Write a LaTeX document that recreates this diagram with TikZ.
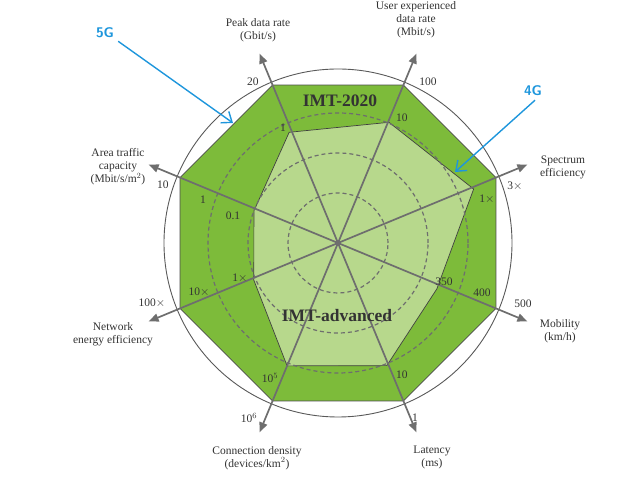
\documentclass[tikz,border=0pt]{standalone}
\usepackage{fontspec}
\setmainfont{Liberation Serif}
\usetikzlibrary{arrows.meta}
\definecolor{gOut}{RGB}{125,187,58}
\definecolor{gIn}{RGB}{183,216,140}
\definecolor{ax}{RGB}{110,110,110}
\definecolor{blu}{RGB}{30,150,220}
\definecolor{txt}{RGB}{50,50,50}
\tikzset{
 axis/.style={draw=ax,line width=1.7pt,-{Triangle[length=10pt,width=8pt]}},
 lab/.style={font=\fontsize{11.5}{13}\selectfont,text=txt,align=center,inner sep=0pt},
 tick/.style={font=\fontsize{11.5}{13}\selectfont,text=black!80,inner sep=0pt},
 title/.style={font=\bfseries\fontsize{17.5}{18}\selectfont,text=black!80,inner sep=0pt},
 marker/.style={draw=blu,line width=1.4pt,-{Straight Barb[length=9pt,width=14pt]}},
 mlab/.style={text=blu,font=\sffamily\bfseries\fontsize{14}{15}\selectfont,inner sep=0pt}
}
\begin{document}
\begin{tikzpicture}[x=1pt,y=1pt]
\useasboundingbox (-338,243) rectangle (302,-243);
\coordinate (c) at (0,0);
\fill[gOut,draw=black!70,line width=0.6pt] (112.5:171)--(67.5:171)--(22.5:171)--(-22.5:171)--(-67.5:171)--(-112.5:171)--(-157.5:171)--(157.5:171)--cycle;
\fill[gIn,draw=black!75,line width=0.7pt] (113.8:121)--(67.1:131)--(21.7:146)--(-24.9:109)--(-68.3:132)--(-112.5:133)--(-156.2:92)--(159.1:90)--cycle;
\draw[black!65,line width=0.9pt] (c) circle (174);
\foreach \r in {50,90,130} \draw[ax,line width=1.2pt,dash pattern=on 4pt off 3pt] (c) circle (\r);
\foreach \a/\n in {112.5/pk,67.5/ue,22.5/se,-22.5/mo,-67.5/la,-112.5/cd,-157.5/ne,157.5/at}
  \draw[axis] (c) -- (\a:205) coordinate (\n);
\fill[ax] (c) circle (2.5);
\node[title] (t1) at (2,142) {IMT-2020};
\node[title] (t2) at (-1,-73) {IMT-advanced};
\node[lab] (l1) at (-80,213) {Peak data rate\\(Gbit/s)};
\node[lab] (l2) at (78,223) {User experienced\\data rate\\(Mbit/s)};
\node[lab] (l3) at (225,76) {Spectrum\\efficiency};
\node[lab] (l4) at (222,-88) {Mobility\\(km/h)};
\node[lab] (l5) at (94,-214) {Latency\\(ms)};
\node[lab] (l6) at (-81,-215) {Connection density\\(devices/km$^2$)};
\node[lab] (l7) at (-225,-91) {Network\\energy efficiency};
\node[lab] (l8) at (-220,76) {Area traffic\\capacity\\(Mbit/s/m$^2$)};
\node[tick] (k1) at (-85,161) {20};
\node[tick] (k2) at (-55,115) {1};
\node[tick] (k3) at (90,161) {100};
\node[tick] (k4) at (64,125) {10};
\node[tick] (k5) at (177,57) {3$\times$};
\node[tick] (k6) at (149,44) {1$\times$};
\node[tick] (k7) at (185,-61) {500};
\node[tick] (k8) at (144,-50) {400};
\node[tick] (k9) at (106,-39) {350};
\node[tick] (k10) at (77,-175) {1};
\node[tick] (k11) at (64,-132) {10};
\node[tick] (k12) at (-89,-175) {10$^6$};
\node[tick] (k13) at (-68,-135) {10$^5$};
\node[tick] (k14) at (-186,-60) {100$\times$};
\node[tick] (k15) at (-139,-49) {10$\times$};
\node[tick] (k16) at (-98,-35) {1$\times$};
\node[tick] (k17) at (-175,58) {10};
\node[tick] (k18) at (-135,43) {1};
\node[tick] (k19) at (-105,27) {0.1};
\node[mlab] (g5) at (-233,210) {5G};
\node[mlab] (g4) at (195,152) {4G};
\coordinate (p5) at (-105,120);
\coordinate (p4) at (117,71);
\draw[marker] ([xshift=4pt,yshift=-3pt]g5.south east) -- (p5);
\draw[marker] ([xshift=2pt,yshift=-4pt]g4.south) -- (p4);
\end{tikzpicture}
\end{document}
